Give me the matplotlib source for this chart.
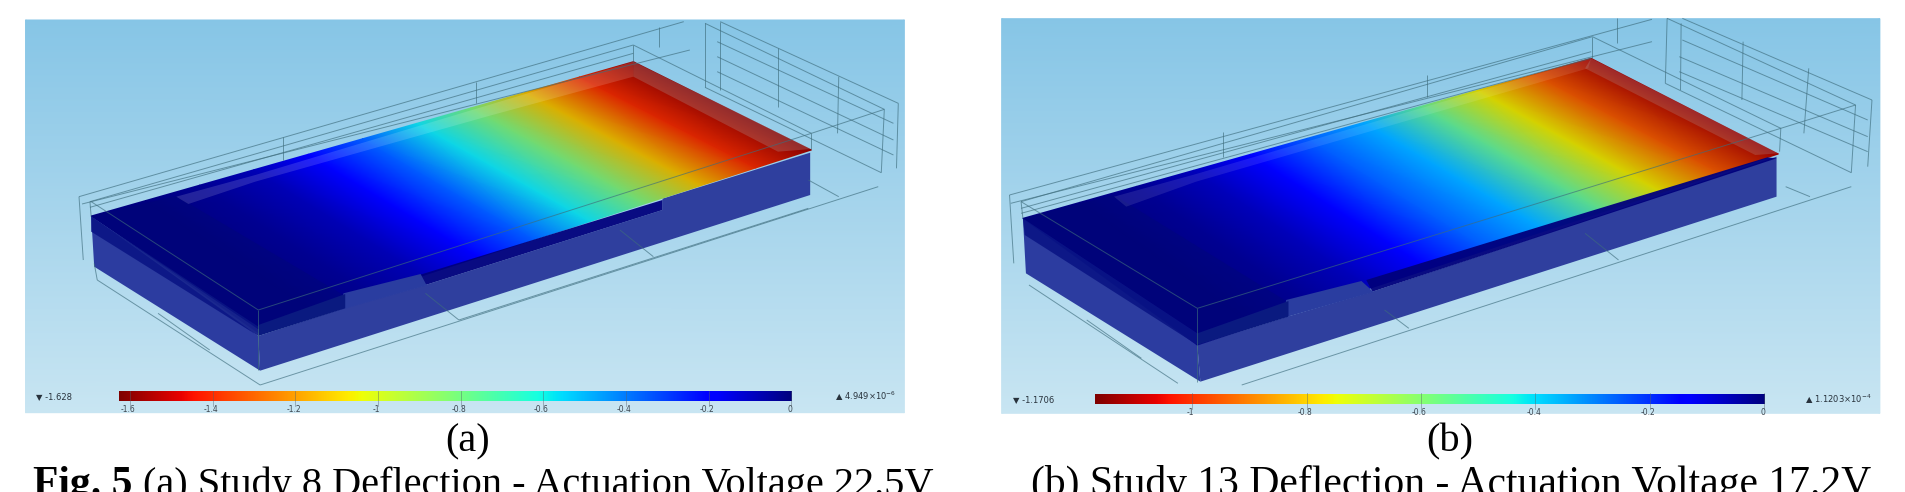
import numpy as np
import matplotlib
matplotlib.use("Agg")
import matplotlib.pyplot as plt
from matplotlib.colors import LinearSegmentedColormap, ListedColormap, Normalize
from matplotlib.patches import Polygon
from matplotlib.collections import LineCollection

# deflection read along the long edge of the plate (fraction of length, then value)
stations = [0.0, 0.1, 0.2, 0.3, 0.4, 0.5, 0.6, 0.7, 0.8, 0.9, 1.0]
deflection_a = [0.0, 0.0, -0.03, -0.08, -0.18, -0.38, -0.60, -0.83, -1.13, -1.40, -1.58]
deflection_b = [0.0, 0.0, -0.02, -0.06, -0.14, -0.27, -0.37, -0.56, -0.76, -0.95, -1.12]

min_a, max_a = -1.628, 4.949e-6
min_b, max_b = -1.1706, 1.1203e-4
ticks_a = [-1.6, -1.4, -1.2, -1, -0.8, -0.6, -0.4, -0.2, 0]
ticks_b = [-1, -0.8, -0.6, -0.4, -0.2, 0]
ticklabels_a = ["-1.6", "-1.4", "-1.2", "-1", "-0.8", "-0.6", "-0.4", "-0.2", "0"]
ticklabels_b = ["-1", "-0.8", "-0.6", "-0.4", "-0.2", "0"]

# geometry, in units of the 1568 x 1476 panel grid
plate_a = [(150, 648), (1042, 185), (425, 986), (1335, 450)]
plate_b = [(115, 655), (1050, 175), (402, 1035), (1358, 462)]
front_a = [(425, 1008), (565, 925), (700, 855), (1090, 630), (1090, 596), (1333, 458), (1333, 585), (428, 1112)]
front_b = [(402, 1035), (550, 950), (690, 875), (1355, 470), (1355, 590), (407, 1145)]
side_a = [(150, 648), (155, 800), (428, 1112), (425, 1008)]
side_b = [(115, 655), (120, 820), (407, 1145), (402, 1035)]

overlays_a = [
    ([(150, 648), (290, 588), (565, 885), (425, 1000)], "#000a6e", 0.3),
    ([(150, 650), (150, 695), (425, 1008), (425, 980)], "#0a1585", 0.9),
    ([(290, 590), (420, 525), (1042, 185), (1042, 230), (810, 345), (420, 545), (310, 612)], "#ffffff", 0.14),
    ([(1042, 185), (1335, 447), (1280, 455), (1042, 230)], "#b0a0a0", 0.28),
    ([(690, 825), (1090, 600), (1090, 630), (700, 855)], "#00007c", 0.95),
    ([(565, 880), (692, 822), (702, 856), (560, 930)], "#2a3da0", 1.0),
    ([(425, 975), (568, 882), (568, 925), (425, 1008)], "#0a1a80", 1.0),
]
overlays_b = [
    ([(115, 655), (265, 585), (550, 905), (402, 1000)], "#000a6e", 0.3),
    ([(115, 655), (118, 705), (402, 1035), (402, 1000)], "#0a1585", 0.9),
    ([(265, 590), (400, 522), (1050, 175), (1045, 205), (400, 545), (285, 620)], "#ffffff", 0.1),
    ([(1050, 175), (1358, 460), (1320, 465), (1040, 205)], "#b0a0a0", 0.25),
    ([(680, 840), (1010, 655), (1340, 472), (1355, 475), (690, 875)], "#00007c", 0.95),
    ([(548, 900), (672, 843), (692, 876), (545, 953)], "#2a3da0", 1.0),
    ([(402, 1000), (552, 903), (552, 950), (402, 1035)], "#0a1a80", 1.0),
]

wire_a = [
    [(130, 590), (1125, 65)], [(135, 612), (1135, 150)], [(148, 605), (1042, 135)], [(148, 622), (1042, 160)],
    [(130, 590), (137, 780)], [(148, 605), (150, 650)], [(465, 410), (465, 480)], [(783, 245), (783, 310)],
    [(1042, 135), (1042, 185)], [(1085, 80), (1085, 140)], [(1160, 70), (1160, 262)], [(1185, 65), (1185, 270)],
    [(1280, 145), (1280, 320)], [(1380, 230), (1378, 400)], [(1335, 400), (1335, 447)],
    [(1042, 135), (1335, 400)], [(1160, 70), (1455, 328)], [(1185, 65), (1478, 310)], [(1478, 310), (1475, 505)],
    [(1455, 328), (1450, 518)], [(1160, 262), (1450, 518)], [(1180, 125), (1470, 370)], [(1180, 170), (1470, 420)],
    [(1180, 215), (1470, 465)], [(1335, 400), (1455, 328)], [(425, 930), (1335, 400)], [(150, 605), (425, 930)],
    [(425, 930), (425, 1110)], [(160, 840), (428, 1155)], [(428, 1155), (1445, 560)], [(160, 840), (155, 790)],
    [(345, 1050), (260, 940)], [(755, 960), (700, 880)], [(1075, 770), (1020, 690)], [(1380, 590), (1330, 540)],
    [(755, 960), (1330, 625)],
]
wire_b = [
    [(93, 585), (1150, 58)], [(95, 610), (1150, 125)], [(112, 605), (1052, 110)], [(112, 625), (1050, 155)],
    [(112, 640), (1050, 175)], [(93, 585), (100, 790)], [(112, 605), (115, 655)], [(445, 395), (445, 470)],
    [(780, 225), (780, 290)], [(1052, 110), (1052, 175)], [(1092, 55), (1092, 130)], [(1175, 55), (1172, 250)],
    [(1198, 70), (1197, 270)], [(1300, 125), (1298, 300)], [(1408, 205), (1400, 400)], [(1362, 385), (1360, 455)],
    [(1052, 110), (1362, 385)], [(1175, 55), (1485, 315)], [(1200, 55), (1512, 300)], [(1512, 300), (1505, 500)],
    [(1485, 315), (1478, 518)], [(1172, 250), (1478, 518)], [(1200, 120), (1505, 360)], [(1195, 170), (1505, 410)],
    [(1195, 215), (1505, 455)], [(1362, 385), (1485, 315)], [(402, 925), (1362, 385)], [(112, 605), (402, 925)],
    [(402, 925), (402, 1145)], [(125, 855), (370, 1150)], [(475, 1155), (1478, 560)], [(220, 960), (310, 1075)],
    [(750, 985), (710, 930)], [(1095, 780), (1040, 700)], [(1410, 590), (1370, 560)],
]

bg_cmap = LinearSegmentedColormap.from_list("bg", ["#86c5e6", "#a3d3ec", "#c8e5f2"])
# the plate looks duller than the legend bar, blues stay as they are
muted = plt.get_cmap("jet_r")(np.linspace(0, 1, 256))
muted[:, :2] *= 0.86
plate_cmap = ListedColormap(muted)
serif = "Liberation Serif"

fig = plt.figure(figsize=(19.06, 4.92), dpi=100)
fig.patch.set_facecolor("white")


def draw_panel(left, frame, plate, front, side, overlays, wire, values, vmin, vmax,
               bar, ticks, ticklabels, minlabel, maxlabel, letter, letter_x):
    ax = fig.add_axes([left, 0, 0.5, 1])
    norm = Normalize(vmin, vmax)
    x0, x1, y0, y1 = frame
    ax.pcolormesh([x0, x1], [y0, y1], [[0, 0], [1, 1]], shading="gouraud", cmap=bg_cmap, zorder=1)
    ax.add_patch(Polygon(front, facecolor="#2f3f9e", edgecolor="none", zorder=2))
    ax.add_patch(Polygon(side, facecolor="#2c3ca0", edgecolor="none", zorder=2))
    A, B, D, C = [np.array(p, float) for p in plate]
    t = np.array(stations)[:, None]
    back = A + t * (B - A)
    near = D + t * (C - D)
    X = np.column_stack([back[:, 0], near[:, 0]])
    Y = np.column_stack([back[:, 1], near[:, 1]])
    Z = np.column_stack([values, values])
    ax.pcolormesh(X, Y, Z, shading="gouraud", cmap=plate_cmap, norm=norm, zorder=3)
    for pts, col, al in overlays:
        ax.add_patch(Polygon(pts, facecolor=col, edgecolor="none", alpha=al, zorder=4))
    ax.add_collection(LineCollection(wire, colors="#3d6c7c", linewidths=0.7, alpha=0.65, zorder=5))

    # legend bar
    bx0, bx1, by0, by1 = bar
    ax.imshow(np.linspace(vmin, vmax, 256)[None, :], extent=[bx0, bx1, by1, by0], cmap="jet_r",
              norm=norm, aspect="auto", zorder=3)
    for v, lab in zip(ticks, ticklabels):
        xt = bx0 + (v - vmin) / (vmax - vmin) * (bx1 - bx0)
        ax.plot([xt, xt], [by0 - 3, by1 + 14], color="#55606a", lw=0.5, alpha=0.6, zorder=4)
        ax.text(xt - 3, by1 + 25, lab, fontsize=5.5, color="#3c4650", ha="center", va="center", zorder=6)
    ax.text(x0 + 18, (by0 + by1) / 2, minlabel, fontsize=6, color="#28323c", ha="left", va="center", zorder=6)
    ax.text(x1 - 14, (by0 + by1) / 2, maxlabel, fontsize=6, color="#28323c", ha="right", va="center", zorder=6)
    ax.text(letter_x, 1354, letter, fontsize=29, family=serif, ha="center", va="baseline", zorder=6)
    ax.set_xlim(0, 1568)
    ax.set_ylim(1476, 0)
    ax.axis("off")
    return ax


ax_a = draw_panel(0.0, (42, 1488, 60, 1238), plate_a, front_a, side_a, overlays_a, wire_a, deflection_a,
                  min_a, max_a, (195, 1302, 1175, 1203), ticks_a, ticklabels_a,
                  "▼ -1.628", "▲ 4.949×10$^{-6}$", "(a)", 770)
ax_b = draw_panel(0.5, (80, 1525, 56, 1240), plate_b, front_b, side_b, overlays_b, wire_b, deflection_b,
                  min_b, max_b, (233, 1335, 1183, 1213), ticks_b, ticklabels_b,
                  "▼ -1.1706", "▲ 1.1203×10$^{-4}$", "(b)", 818)

ax_a.text(55, 1484, "Fig. 5", fontsize=30, family=serif, fontweight="bold", ha="left", va="baseline")
ax_a.text(235, 1484, "(a) Study 8 Deflection - Actuation Voltage 22.5V", fontsize=29, family=serif,
          ha="left", va="baseline")
ax_b.text(128, 1484, "(b) Study 13 Deflection - Actuation Voltage 17.2V", fontsize=30, family=serif,
          ha="left", va="baseline")

fig.savefig("out.png", dpi=100)
